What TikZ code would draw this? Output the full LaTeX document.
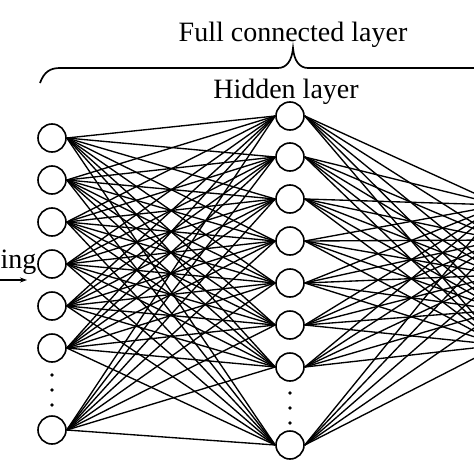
\documentclass[tikz,border=0pt]{standalone}
\usepackage{fontspec}
\setmainfont{Liberation Serif}
\usetikzlibrary{arrows.meta}
\begin{document}
\begin{tikzpicture}[x=1pt,y=-1pt,
 neuron/.style={circle,draw,line width=1.6pt,minimum size=28pt,inner sep=0pt,fill=white},
 conn/.style={line width=1.35pt},
 lbl/.style={font=\fontsize{28}{30}\selectfont, inner sep=0pt},
 dotc/.style={circle,fill,inner sep=0pt,minimum size=3.8pt}]
\useasboundingbox (0,0) rectangle (474,474);
\foreach \i/\y in {1/138,2/180,3/222,4/264,5/306,6/348,7/430}
  \node[neuron] (L\i) at (52,\y) {};
\foreach \i/\y in {1/116,2/157,3/199,4/241,5/283,6/325,7/367,8/445}
  \node[neuron] (M\i) at (290,\y) {};
\foreach \i/\y in {1/205,2/240,3/275,4/310,5/345}
  \node[neuron] (R\i) at (515,\y) {};
\foreach \i in {1,...,7}
  \foreach \j in {1,...,8}
    \draw[conn] (L\i.east) -- (M\j.west);
\foreach \j in {1,...,8}
  \foreach \k in {1,...,5}
    \draw[conn] (M\j.east) -- (R\k.west);
\foreach \y [count=\n] in {375,390,405}
  \node[dotc] (ld\n) at (52,\y) {};
\foreach \y [count=\n] in {393,408,423}
  \node[dotc] (md\n) at (290,\y) {};
\node[lbl, anchor=base] (full) at (293,41) {Full connected layer};
\node[lbl, anchor=base] (hid) at (286,98) {Hidden layer};
\node[lbl, anchor=base west] (ing) at (0.5,268) {ing};
\coordinate (a0) at (0,280);
\coordinate (a1) at (27,280);
\draw[-{Stealth[length=7pt,width=5pt]}, line width=1.1pt] (a0) -- (a1);
\draw[line width=1.7pt] (40,83) .. controls (44,72) and (50,68) .. (60,68) -- (278,68)
  .. controls (287,68) and (292,60) .. (293,48)
  .. controls (294,60) and (299,68) .. (308,68) -- (526,68)
  .. controls (536,68) and (542,72) .. (546,83);
\end{tikzpicture}
\end{document}
